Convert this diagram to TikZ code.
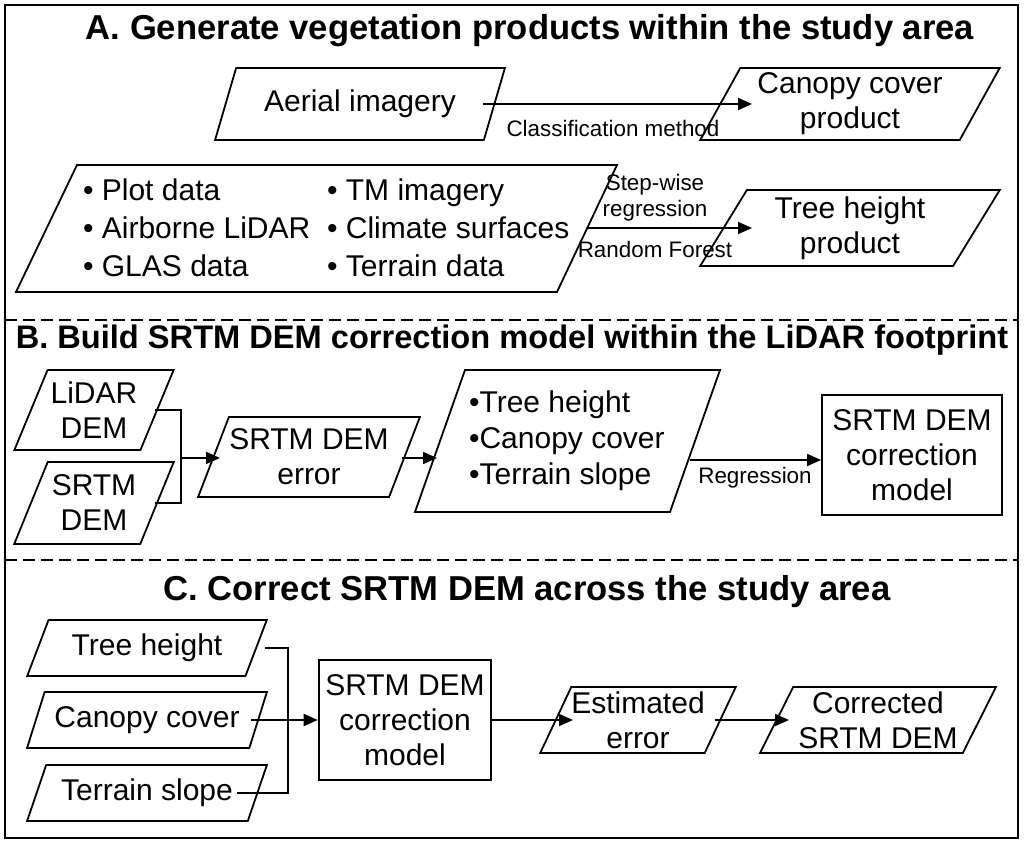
\documentclass[tikz,border=0pt]{standalone}
\usepackage{fontspec}
\setmainfont{Liberation Sans}
\usetikzlibrary{shapes.geometric,arrows.meta}
\begin{document}
\begin{tikzpicture}[x=0.5pt,y=-0.5pt,
  para/.style={trapezium, trapezium left angle=63, trapezium right angle=117, trapezium stretches=true, draw, line width=0.9pt, inner xsep=0pt, inner ysep=1pt, align=center, font=\fontsize{15}{17.5}\selectfont},
  box/.style={draw, line width=0.9pt, align=center, font=\fontsize{15}{17.5}\selectfont},
  txt/.style={font=\fontsize{15}{19}\selectfont, align=left, anchor=west},
  ttl/.style={font=\fontsize{17.3}{20}\selectfont\bfseries},
  lbl/.style={font=\fontsize{11.2}{13}\selectfont, align=center},
  arr/.style={line width=0.9pt, -{Triangle[length=7pt,width=6pt]}},
  ln/.style={line width=0.9pt}]
\useasboundingbox (0,0) rectangle (1024,844);
\draw[line width=1pt] (5,5) rectangle (1018,838);
\draw[line width=1pt, dash pattern=on 6pt off 3pt] (5,320) -- (1018,320);
\draw[line width=1pt, dash pattern=on 6pt off 3pt] (5,560) -- (1018,560);
% A
\node[ttl] (ta) at (530,31) {A. Generate vegetation products within the study area};
\node[para, minimum width=145pt, minimum height=36pt] (aer) at (360,104) {Aerial imagery};
\node[para, minimum width=150pt, minimum height=36pt] (can) at (850,104) {Canopy cover\\product};
\draw[arr] (483,104) -- (752,104);
\node[lbl] (lcm) at (613,128) {Classification method};
\coordinate (b1) at (77,165); \coordinate (b2) at (617,165);
\coordinate (b3) at (557,292); \coordinate (b4) at (16,292);
\draw[ln] (b1) -- (b2) -- (b3) -- (b4) -- cycle;
\node[txt] (c1) at (76,228) {\textbullet\ Plot data\\\textbullet\ Airborne LiDAR\\\textbullet\ GLAS data};
\node[txt] (c2) at (320,228) {\textbullet\ TM imagery\\\textbullet\ Climate surfaces\\\textbullet\ Terrain data};
\node[para, minimum width=150pt, minimum height=38pt] (th) at (850,228) {Tree height\\product};
\draw[arr] (587,228) -- (752,228);
\node[lbl] (lsw) at (655,198) {Step-wise\\regression};
\node[lbl] (lrf) at (655,249) {Random Forest};
% B
\node[ttl, font=\fontsize{16.3}{19}\selectfont\bfseries] (tb) at (512,340) {B. Build SRTM DEM correction model within the LiDAR footprint};
\node[para, minimum width=80pt, minimum height=40pt] (lid) at (94,410) {LiDAR\\DEM};
\node[para, minimum width=80pt, minimum height=41pt] (srt) at (94,503) {SRTM\\DEM};
\node[para, minimum width=111pt, minimum height=40pt] (err) at (309,457) {SRTM DEM\\error};
\coordinate (p1) at (465,370); \coordinate (p2) at (720,370);
\coordinate (p3) at (670,512); \coordinate (p4) at (415,512);
\draw[ln] (p1) -- (p2) -- (p3) -- (p4) -- cycle;
\node[txt, font=\fontsize{15}{18}\selectfont] (bt) at (462,441) {\textbullet Tree height\\\textbullet Canopy cover\\\textbullet Terrain slope};
\node[box, minimum width=90pt, minimum height=60pt] (mod) at (912,455) {SRTM DEM\\correction\\model};
\draw[ln] (155,410) -- (181,410) -- (181,503) -- (155,503);
\draw[arr] (181,458) -- (220,458);
\draw[arr] (402,458) -- (437,458);
\draw[arr] (690,460) -- (mod.west |- 0,460);
\node[lbl] (lrg) at (755,478) {Regression};
% C
\node[ttl] (tc) at (527,592) {C. Correct SRTM DEM across the study area};
\node[para, minimum width=120pt, minimum height=28pt] (cth) at (147,648) {Tree height};
\node[para, minimum width=120pt, minimum height=28pt] (ccc) at (147,720) {Canopy cover};
\node[para, minimum width=120pt, minimum height=28pt] (cts) at (147,793) {Terrain slope};
\node[box, minimum width=80pt, minimum height=60pt] (cmod) at (405,720) {SRTM DEM\\correction\\model};
\node[para, minimum width=90pt, minimum height=33pt] (est) at (638,720) {Estimated\\error};
\node[para, minimum width=118pt, minimum height=33pt] (cor) at (878,720) {Corrected\\SRTM DEM};
\draw[ln] (265,648) -- (288,648) -- (288,793) -- (237,793);
\draw[arr] (251,720) -- (cmod.west);
\draw[arr] (cmod.east) -- (573,720);
\draw[arr] (715,720) -- (789,720);
\end{tikzpicture}
\end{document}
